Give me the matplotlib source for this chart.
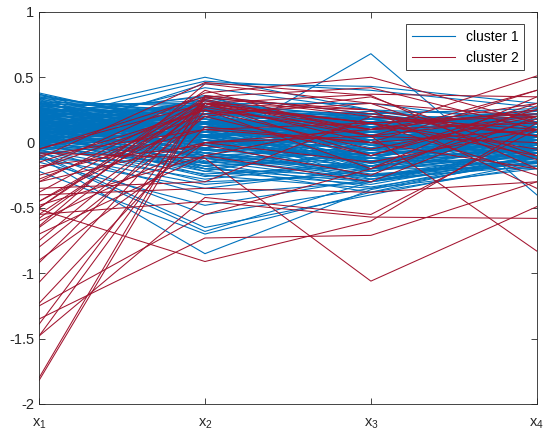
import matplotlib
matplotlib.use('Agg')
import matplotlib.pyplot as plt

plt.rcParams['font.family'] = ['Liberation Sans', 'DejaVu Sans']

# variables on the x axis
labels = ['$\\mathregular{x_1}$', '$\\mathregular{x_2}$', '$\\mathregular{x_3}$', '$\\mathregular{x_4}$']
axis_pos = [1, 2, 3, 4]

# cluster 1 (rows = samples, cols = x1..x4)
cluster1 = [
    [0.38, 0.10, 0.05, 0.10], [0.37, 0.02, -0.08, 0.00], [0.36, 0.15, -0.05, 0.05],
    [0.35, 0.05, 0.10, 0.15], [0.34, 0.22, 0.00, -0.05], [0.33, 0.18, 0.15, 0.20],
    [0.33, -0.08, -0.18, -0.10], [0.32, -0.05, -0.10, 0.00], [0.31, 0.28, 0.05, 0.10],
    [0.30, 0.12, -0.20, -0.10], [0.30, 0.25, 0.20, 0.15], [0.29, 0.00, 0.05, 0.05],
    [0.29, 0.16, 0.12, 0.20], [0.28, 0.20, -0.15, 0.08], [0.27, 0.10, 0.12, -0.02],
    [0.27, 0.32, 0.18, 0.22], [0.26, -0.10, -0.25, -0.12], [0.26, 0.06, 0.02, 0.12],
    [0.25, 0.15, 0.08, 0.12], [0.25, 0.05, -0.05, 0.18], [0.24, 0.26, 0.22, 0.05],
    [0.24, -0.02, -0.12, -0.06], [0.23, -0.15, -0.18, -0.05], [0.23, 0.18, 0.06, 0.16],
    [0.22, 0.20, 0.00, 0.10], [0.22, 0.35, 0.10, 0.00], [0.21, 0.50, 0.25, 0.20],
    [0.21, 0.12, -0.22, -0.02], [0.20, 0.08, 0.15, 0.25], [0.20, -0.20, -0.30, -0.15],
    [0.19, 0.12, 0.05, -0.08], [0.19, 0.24, 0.14, 0.08], [0.18, 0.30, 0.20, 0.15],
    [0.18, 0.00, -0.10, 0.02], [0.17, 0.47, 0.40, 0.27], [0.17, 0.10, 0.00, 0.18],
    [0.16, 0.18, -0.05, 0.12], [0.16, -0.08, 0.10, 0.08], [0.15, 0.22, 0.15, -0.10],
    [0.15, 0.05, -0.22, 0.00], [0.15, -0.12, -0.08, 0.06], [0.14, 0.28, 0.08, 0.18],
    [0.14, 0.04, 0.18, 0.02], [0.13, -0.18, -0.12, -0.18], [0.13, 0.14, 0.20, 0.10],
    [0.12, 0.02, 0.00, 0.15], [0.12, 0.33, 0.12, 0.05], [0.12, 0.16, -0.14, -0.04],
    [0.11, 0.20, -0.08, -0.05], [0.11, -0.02, 0.08, 0.20], [0.10, -0.12, -0.28, -0.08],
    [0.10, 0.10, 0.05, 0.22], [0.10, 0.42, 0.25, 0.10], [0.09, 0.25, 0.18, 0.00],
    [0.09, 0.08, -0.18, 0.10], [0.08, -0.25, -0.35, -0.20], [0.08, 0.06, 0.10, 0.05],
    [0.08, 0.20, 0.02, 0.14], [0.07, 0.16, -0.02, 0.12], [0.07, -0.10, -0.20, -0.14],
    [0.06, 0.30, 0.15, 0.20], [0.06, -0.05, -0.15, -0.02], [0.05, 0.12, 0.22, 0.08],
    [0.05, 0.45, 0.43, 0.30], [0.05, 0.00, 0.04, -0.10], [0.04, -0.15, -0.05, 0.10],
    [0.04, 0.20, 0.05, -0.12], [0.03, 0.00, -0.20, 0.05], [0.03, 0.14, 0.10, 0.24],
    [0.02, 0.27, 0.10, 0.15], [0.02, -0.22, -0.32, -0.10], [0.01, 0.08, 0.00, 0.00],
    [0.01, -0.08, -0.24, -0.16], [0.00, 0.15, 0.18, 0.18], [0.00, -0.30, -0.25, -0.15],
    [-0.01, 0.35, 0.05, 0.10], [-0.02, -0.05, 0.68, -0.40], [-0.02, 0.05, -0.10, 0.05],
    [-0.03, -0.18, -0.38, -0.18], [-0.04, 0.22, 0.12, 0.25], [-0.05, -0.40, -0.30, -0.05],
    [-0.05, 0.10, 0.20, 0.02], [-0.06, -0.28, -0.15, -0.12], [-0.07, -0.55, -0.35, -0.10],
    [-0.08, 0.02, -0.05, 0.12], [-0.09, -0.65, -0.40, -0.15], [-0.10, -0.68, -0.30, -0.08],
    [-0.11, -0.85, -0.36, -0.12], [-0.12, -0.35, -0.20, -0.20], [-0.13, -0.15, 0.05, 0.00],
    [-0.15, -0.48, -0.28, -0.05], [-0.22, -0.70, -0.38, -0.10], [0.28, 0.08, 0.22, 0.04],
    [0.26, 0.22, -0.02, -0.08], [0.24, 0.12, 0.16, 0.06], [0.22, -0.04, 0.06, 0.14],
    [0.20, 0.28, -0.10, 0.00], [0.18, 0.16, 0.24, 0.12], [0.16, 0.02, -0.26, -0.12],
    [0.14, 0.20, 0.00, 0.08], [0.12, -0.05, 0.14, 0.00], [0.10, 0.24, -0.04, 0.18],
    [0.08, 0.12, 0.12, -0.06], [0.06, -0.18, -0.10, 0.04], [0.04, 0.06, 0.16, 0.16],
    [0.02, 0.18, -0.16, -0.02], [0.00, -0.12, 0.02, 0.08], [-0.02, 0.26, 0.20, 0.04],
    [-0.04, -0.08, -0.22, -0.06], [0.31, 0.04, 0.00, 0.22], [0.27, -0.14, -0.30, -0.04],
    [0.19, 0.36, 0.22, 0.26], [0.13, -0.22, 0.00, -0.12], [0.09, 0.30, 0.30, 0.14],
    [0.03, -0.26, -0.14, 0.02], [-0.01, 0.10, -0.28, -0.18], [0.35, 0.20, 0.08, 0.06],
    [0.37, 0.12, 0.02, 0.16], [0.34, -0.02, -0.14, 0.04], [0.32, 0.14, 0.18, -0.04],
    [0.30, 0.06, -0.06, 0.10], [0.28, 0.24, 0.10, 0.02], [0.26, 0.14, -0.18, 0.14],
    [0.25, -0.06, 0.00, -0.08], [0.23, 0.08, 0.12, 0.20], [0.21, 0.02, -0.08, 0.06],
    [0.20, 0.18, 0.04, -0.02], [0.19, -0.12, -0.20, -0.02], [0.17, 0.22, 0.18, 0.22],
    [0.16, 0.06, 0.08, -0.06], [0.15, 0.30, -0.02, 0.04], [0.14, -0.06, -0.12, 0.12],
    [0.13, 0.10, 0.24, 0.08], [0.12, 0.26, 0.06, -0.08], [0.11, 0.00, -0.30, -0.12],
    [0.10, 0.16, 0.10, 0.10], [0.09, -0.16, -0.06, 0.02], [0.08, 0.28, 0.14, 0.20],
    [0.07, 0.04, -0.12, -0.10], [0.06, 0.14, 0.04, 0.06], [0.05, -0.20, -0.26, -0.06],
    [0.04, 0.24, 0.20, 0.12], [0.03, 0.08, -0.02, -0.04], [0.02, -0.10, 0.10, 0.16],
    [0.01, 0.20, 0.00, 0.02], [0.00, 0.02, -0.14, -0.08], [-0.01, -0.16, -0.34, -0.14],
    [-0.03, 0.12, 0.06, 0.06], [-0.04, -0.24, -0.18, -0.02], [-0.06, 0.06, 0.02, 0.14],
    [-0.07, -0.12, -0.26, -0.16], [-0.08, -0.32, -0.22, -0.08], [0.29, 0.30, 0.02, 0.12],
    [0.27, 0.00, 0.14, 0.00], [0.25, 0.22, -0.12, 0.10], [0.23, -0.10, -0.04, 0.18],
    [0.21, 0.26, 0.16, -0.06], [0.19, 0.04, -0.16, 0.04], [0.17, -0.04, 0.20, 0.10],
    [0.15, 0.14, -0.06, -0.12], [0.13, 0.32, 0.10, 0.16], [0.11, 0.08, 0.16, 0.04],
    [0.09, -0.02, -0.10, -0.02], [0.07, 0.22, -0.20, 0.08], [0.05, 0.16, 0.14, 0.22],
    [0.03, -0.06, 0.04, 0.00], [0.01, 0.04, 0.12, -0.06], [-0.02, -0.20, -0.08, 0.10],
]

# cluster 2
cluster2 = [
    [-1.82, 0.30, 0.10, 0.15], [-1.80, 0.36, 0.22, 0.05], [-1.48, 0.25, -0.05, 0.20],
    [-1.48, -0.42, -0.55, 0.10], [-1.39, 0.30, 0.15, -0.10], [-1.35, -0.73, -0.71, -0.30],
    [-1.23, 0.12, 0.00, 0.10], [-1.07, 0.30, 0.25, 0.05], [-0.92, 0.33, 0.10, 0.25],
    [-0.80, 0.20, -0.10, 0.30], [-0.64, 0.45, 0.30, 0.20], [-0.51, -0.91, -0.60, 0.15],
    [-0.55, -0.45, -0.57, -0.58], [-0.50, 0.35, 0.20, 0.10], [-0.45, 0.28, 0.15, -0.05],
    [-0.40, -0.35, -0.38, -0.30], [-0.30, 0.32, 0.05, 0.20], [-0.25, 0.10, 0.00, 0.40],
    [-0.20, 0.38, 0.50, 0.15], [-0.15, 0.25, 0.10, 0.30], [-0.08, -0.12, -1.06, -0.49],
    [-0.05, 0.35, 0.42, 0.10], [-0.60, 0.00, 0.05, -0.83], [-0.70, -0.10, 0.15, 0.20],
    [-0.35, -0.30, 0.20, 0.05], [-0.12, 0.46, 0.36, -0.20], [-0.55, 0.30, 0.37, 0.35],
    [-0.45, 0.20, 0.35, -0.10], [-0.30, 0.00, 0.10, 0.51], [-0.50, 0.40, 0.05, 0.00],
    [-0.20, 0.25, -0.20, 0.35], [-0.10, 0.10, 0.15, -0.25], [-0.38, 0.30, -0.10, 0.25],
    [-0.65, 0.27, 0.05, 0.40], [-0.48, -0.10, -0.30, 0.20], [-0.05, 0.30, 0.15, 0.22],
    [-0.90, 0.00, -0.15, 0.10], [-0.75, 0.30, 0.00, -0.20], [-0.58, 0.34, 0.25, -0.35],
    [-0.28, 0.22, 0.30, -0.13], [-0.18, -0.02, -0.25, 0.28], [-1.25, -0.55, -0.20, 0.18],
]

c1 = '#0072BD'
c2 = '#A2142F'

fig = plt.figure(figsize=(5.5, 4.41), dpi=100)
ax = fig.add_axes([0.071, 0.084, 0.905, 0.889])

for i, row in enumerate(cluster1):
    ax.plot(axis_pos, row, color=c1, lw=0.8, label='cluster 1' if i == 0 else None)
for i, row in enumerate(cluster2):
    ax.plot(axis_pos, row, color=c2, lw=0.75, label='cluster 2' if i == 0 else None)

ax.set_xlim(1, 4)
ax.set_ylim(-2, 1)
ax.set_xticks(axis_pos)
ax.set_xticklabels(labels)
ax.set_yticks([-2, -1.5, -1, -0.5, 0, 0.5, 1])
ax.set_yticklabels(['-2', '-1.5', '-1', '-0.5', '0', '0.5', '1'])
ax.tick_params(direction='in', top=True, right=True, labelsize=10.5, colors='#262626',
               length=4, width=0.6)
ax.tick_params(axis='x', pad=9)
for s in ax.spines.values():
    s.set_color('#262626')
    s.set_linewidth(0.6)

leg = ax.legend(loc='upper right', fontsize=10, fancybox=False, framealpha=1,
                edgecolor='#262626', handlelength=3.1, borderaxespad=0.9)
leg.get_frame().set_linewidth(0.6)

fig.savefig('out.png', dpi=100)
